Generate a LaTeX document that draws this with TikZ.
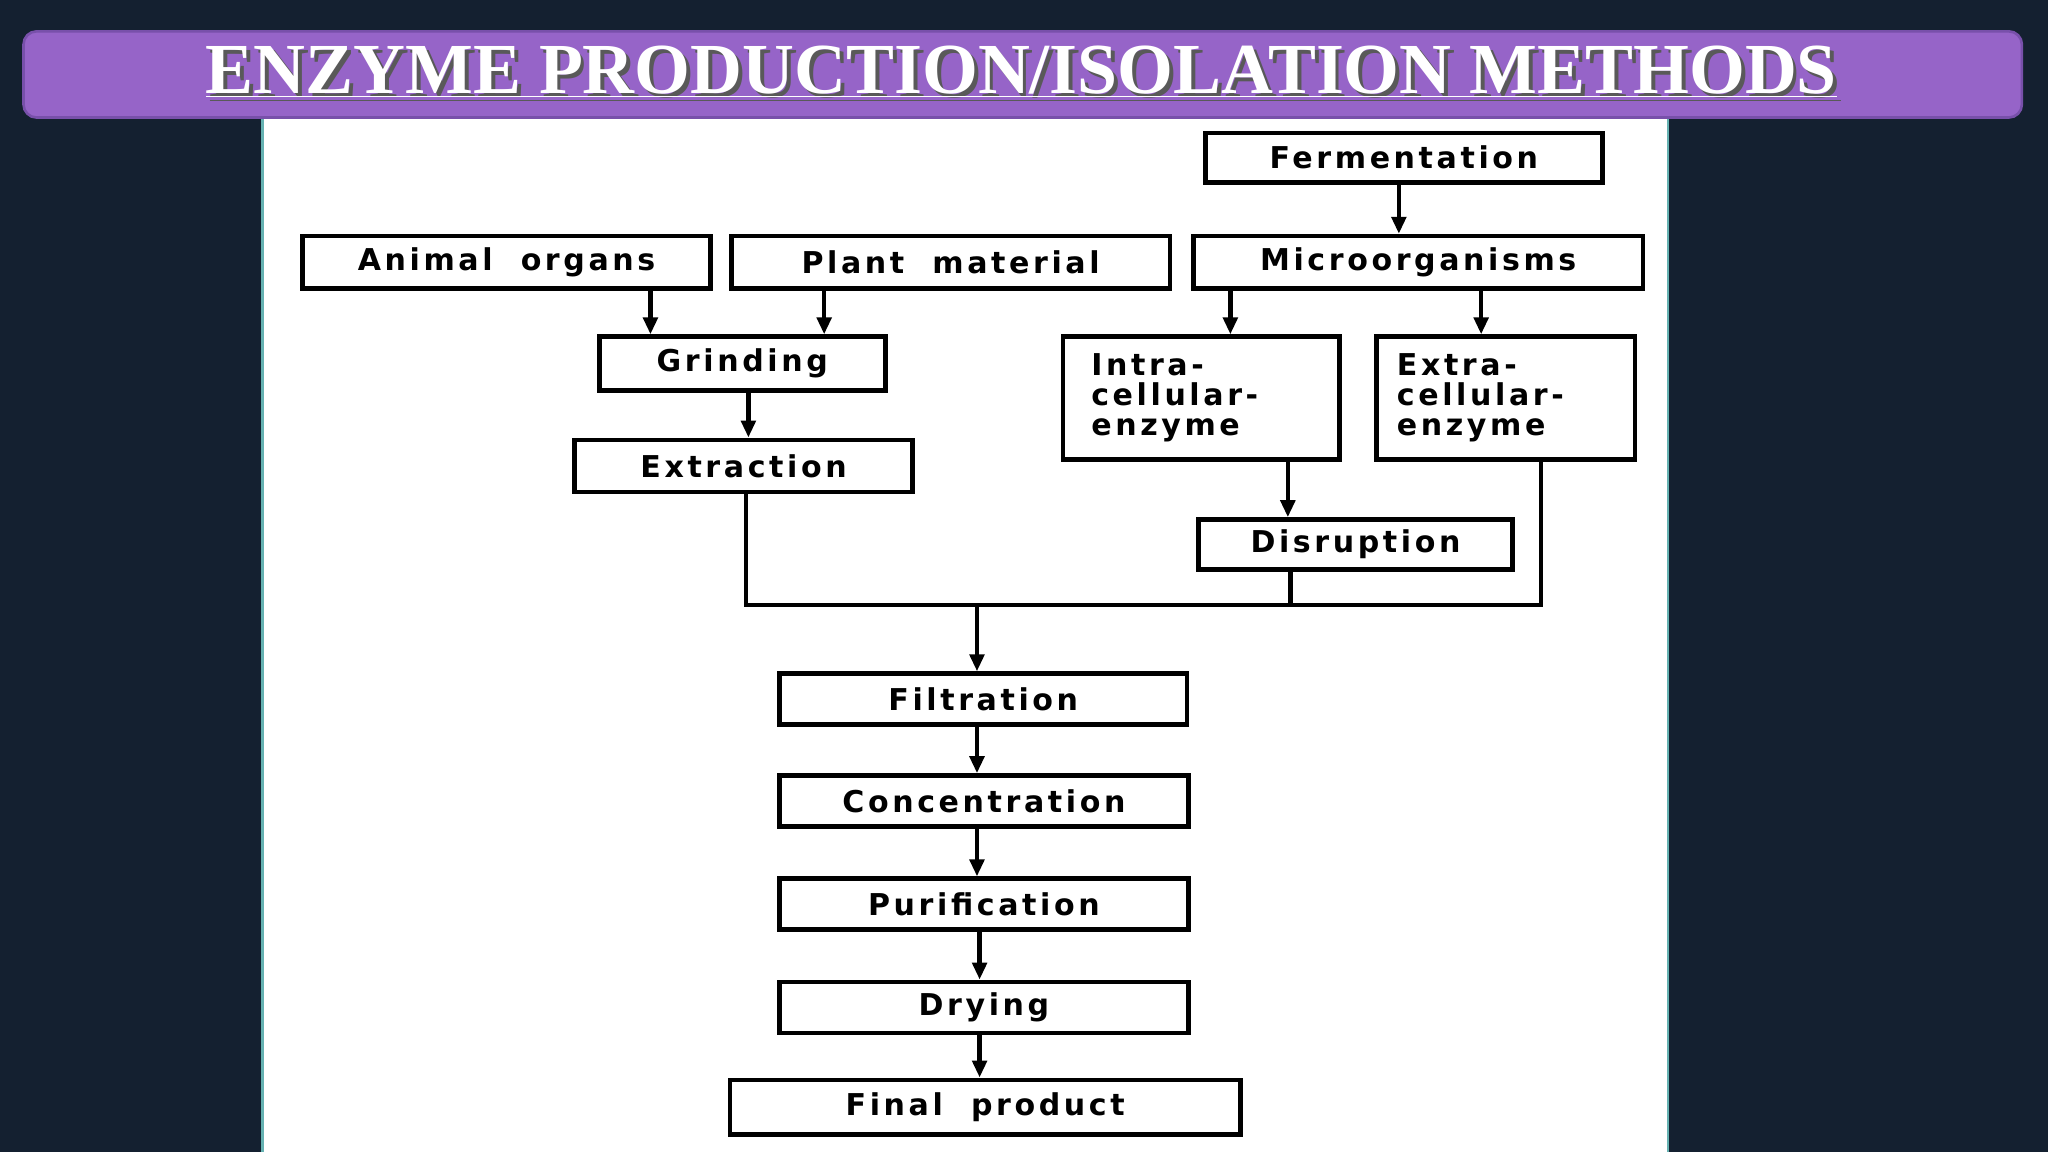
\documentclass[tikz,border=0pt]{standalone}
\usepackage{fontspec}
\setmainfont{Liberation Serif}
\newfontfamily\boxfont{DejaVu Sans}[LetterSpace=12]
\usetikzlibrary{arrows.meta,shadows}
\begin{document}
\begin{tikzpicture}[x=1pt,y=-1pt,
 bx/.style={draw=black,line width=3.6pt,fill=white,inner sep=0pt},
 ar/.style={line width=3.4pt,-{Triangle[length=13pt,width=11pt]}},
 ln/.style={line width=3.4pt}]
\fill[fill={rgb,255:red,20;green,32;blue,48}] (0,0) rectangle (1568,882);
\useasboundingbox (0,0) rectangle (1568,882);
\fill[white] (200,88) rectangle (1278,882);
\draw[teal!60,line width=2pt] (201,88) -- (201,882) (1277,88) -- (1277,882);
\fill[rounded corners=10pt,fill={rgb,255:red,150;green,100;blue,200},draw={rgb,255:red,120;green,80;blue,170},line width=2pt] (18,24) rectangle (1548,90);
\node (title) at (785,58) {\fontsize{55}{58}\selectfont\bfseries\color{black!65}\underline{ENZYME PRODUCTION/ISOLATION METHODS}};
\node at (782,55) {\fontsize{55}{58}\selectfont\bfseries\color{white}\underline{ENZYME PRODUCTION/ISOLATION METHODS}};
\newcommand\bxn[5]{\node[bx,minimum width=#4-#2,minimum height=#5-#3,anchor=north west] (#1) at (#2,#3) {};}
\bxn{ferm}{921}{100}{1225}{138}
\bxn{anim}{230}{179}{542}{219}
\bxn{plant}{558}{179}{894}{219}
\bxn{micro}{912}{179}{1256}{219}
\bxn{grind}{457}{256}{676}{297}
\bxn{intra}{812}{256}{1024}{350}
\bxn{extra}{1052}{256}{1250}{350}
\bxn{extr}{438}{335}{697}{375}
\bxn{disr}{916}{396}{1156}{434}
\bxn{filt}{595}{514}{907}{553}
\bxn{conc}{595}{592}{908}{631}
\bxn{puri}{595}{671}{908}{710}
\bxn{dry}{595}{750}{908}{789}
\bxn{fin}{557}{825}{948}{867}
\begin{scope}[every node/.style={font=\boxfont\bfseries\fontsize{23}{26}\selectfont}]
\node at (ferm) {Fermentation};
\node at (anim) {Animal\ \ organs};
\node at (plant) {Plant\ \ material};
\node at (micro) {Microorganisms};
\node at (grind) {Grinding};
\node[align=left,anchor=west] at ([xshift=20pt]intra.west) {Intra-\\[-3pt]cellular-\\[-3pt]enzyme};
\node[align=left,anchor=west] at ([xshift=14pt]extra.west) {Extra-\\[-3pt]cellular-\\[-3pt]enzyme};
\node at (extr) {Extraction};
\node at (disr) {Disruption};
\node at (filt) {Filtration};
\node at (conc) {Concentration};
\node at (puri) {Purification};
\node at (dry) {Drying};
\node at (fin) {Final\ \ product};
\end{scope}
\coordinate (j) at (748,463);
\draw[ar] (ferm.south -| 1071,0) -- (micro.north -| 1071,0);
\draw[ar] (anim.south -| 498,0) -- (grind.north -| 498,0);
\draw[ar] (plant.south -| 631,0) -- (grind.north -| 631,0);
\draw[ar] (micro.south -| 942,0) -- (intra.north -| 942,0);
\draw[ar] (micro.south -| 1134,0) -- (extra.north -| 1134,0);
\draw[ar] (grind.south -| 573,0) -- (extr.north -| 573,0);
\draw[ar] (intra.south -| 986,0) -- (disr.north -| 986,0);
\draw[ln] (extr.south -| 571,0) -- (571,463) -- (1180,463) -- (extra.south -| 1180,0);
\draw[ln] (disr.south -| 988,0) -- (988,463);
\draw[ar] (j) -- (filt.north -| j);
\draw[ar] (filt.south -| j) -- (conc.north -| j);
\draw[ar] (conc.south -| j) -- (puri.north -| j);
\draw[ar] (puri.south -| 750,0) -- (dry.north -| 750,0);
\draw[ar] (dry.south -| 750,0) -- (fin.north -| 750,0);
\end{tikzpicture}
\end{document}
